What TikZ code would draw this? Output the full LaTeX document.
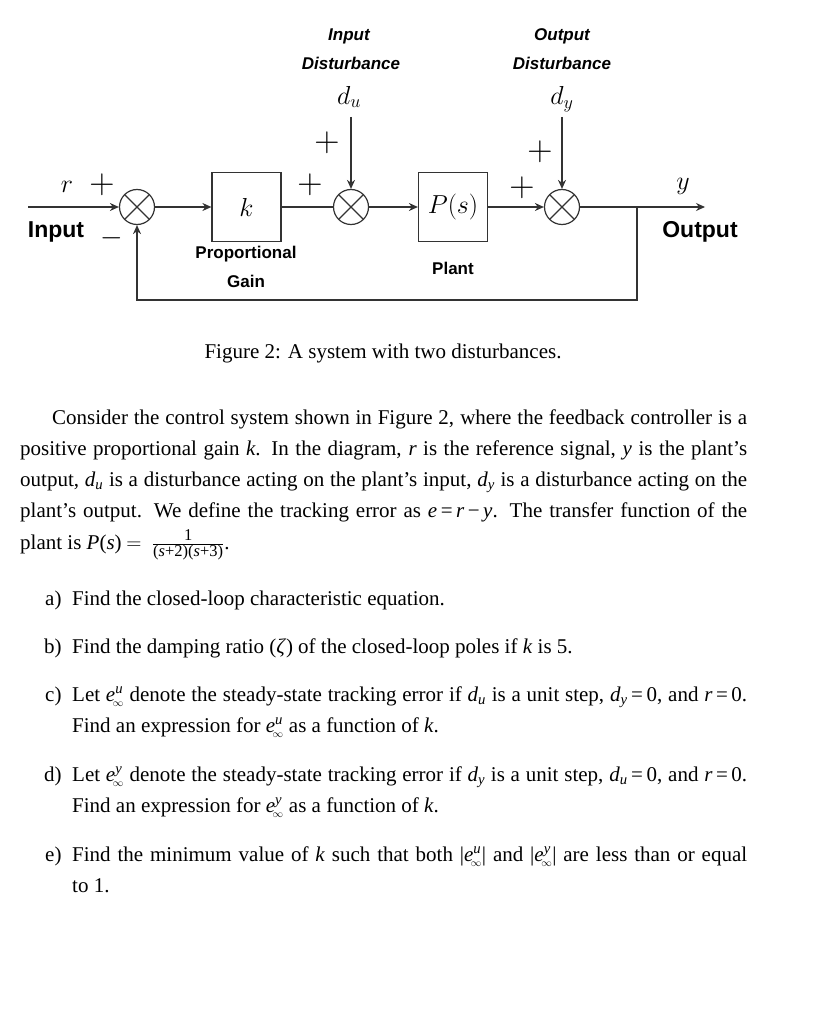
\RequirePackage{fix-cm}
\documentclass[tikz,border=0pt]{standalone}
\usepackage{amsmath}
\usepackage[no-math]{fontspec}
\setmainfont{Liberation Serif}
\newfontfamily\dsans{Liberation Sans}
\usetikzlibrary{arrows.meta}
\definecolor{lc}{HTML}{333333}
\newcommand\jl[2]{\makebox[#1pt][s]{#2}}
\newcommand\mi[1]{\textit{#1}}
\newcommand\eu{$\textit{e}^{\textit{u}}_{\mkern-3mu\scriptscriptstyle\infty}$}
\newcommand\ey{$\textit{e}^{\textit{y}}_{\mkern-3mu\scriptscriptstyle\infty}$}
\newcommand\du{\textit{d}\textsubscript{\textit{u}}}
\newcommand\dy{\textit{d}\textsubscript{\textit{y}}}
\newcommand\fr[1]{\text{\fontsize{16.5}{16.5}\selectfont #1}}
\begin{document}
\begin{tikzpicture}[x=1pt,y=-1pt,
  line/.style={draw=lc, line width=1.2pt},
  arr/.style={line, -{Stealth[length=9pt,width=8pt]}},
  blk/.style={draw=lc, line width=1.2pt, minimum width=69pt, minimum height=69pt, inner sep=0pt},
  sumc/.style={circle, draw=lc, line width=1.2pt, minimum size=35pt, inner sep=0pt,
    path picture={\draw[lc, line width=1.1pt] (path picture bounding box.north west) -- (path picture bounding box.south east)
      (path picture bounding box.north east) -- (path picture bounding box.south west);}},
  mth/.style={font=\fontsize{26}{26}\selectfont, inner sep=0pt},
  pls/.style={font=\fontsize{35}{35}\selectfont, inner sep=0pt},
  big/.style={font=\fontsize{23}{23}\selectfont\dsans\bfseries, inner sep=0pt},
  small/.style={font=\fontsize{17}{17}\selectfont\dsans\bfseries, inner sep=0pt},
  smit/.style={font=\fontsize{17}{17}\selectfont\dsans\bfseries\itshape, inner sep=0pt},
  txt/.style={font=\fontsize{21}{21}\selectfont, inner sep=0pt, anchor=base west},
  lbl/.style={font=\fontsize{21}{21}\selectfont, inner sep=0pt, anchor=base west}
]
\useasboundingbox (0,0) rectangle (820,1024);
\fill[white] (0,0) rectangle (820,1024);

% blocks
\node[sumc] (s1) at (137,207) {};
\node[blk] (k) at (246.5,207) {\fontsize{26}{26}\selectfont$k$};
\node[sumc] (s2) at (351,207) {};
\node[blk] (p) at (453,207) {\fontsize{26}{26}\selectfont$P(s)$};
\node[sumc] (s3) at (562,207) {};
\coordinate (in) at (28,207);
\coordinate (br) at (637,207);
\coordinate (out) at (705,207);
\coordinate (fb) at (637,300);
\coordinate (fb2) at (137,300);
\coordinate (du) at (351,117);
\coordinate (dy) at (562,117);

\draw[arr] (in) -- (s1);
\draw[arr] (s1) -- (k);
\draw[line] (k) -- (s2);
\draw[arr] (s2) -- (p);
\draw[arr] (p) -- (s3);
\draw[arr] (s3) -- (out);
\draw[arr] (br) -- (fb) -- (fb2) -- (s1);
\draw[arr] (du) -- (s2);
\draw[arr] (dy) -- (s3);

% labels
\node[mth] (r) at (67,187) {$r$};
\node[pls] (p1) at (102,185) {$+$};
\node[font=\fontsize{29}{29}\selectfont, inner sep=0pt] (m1) at (112,238) {$-$};
\node[big] (inl) at (56,232) {Input};
\node[big] (outl) at (700,232) {Output};
\node[small] (pg1) at (246,254) {Proportional};
\node[small] (pg2) at (246,281) {Gain};
\node[small] (pl) at (453,268) {Plant};
\node[pls] (p2) at (310,185) {$+$};
\node[pls] (p3) at (327,143) {$+$};
\node[pls] (p4) at (522,188) {$+$};
\node[pls] (p5) at (540,152) {$+$};
\node[smit] (id1) at (349,36) {Input};
\node[smit] (id2) at (351,63) {Disturbance};
\node[smit] (od1) at (562,36) {Output};
\node[smit] (od2) at (562,63) {Disturbance};
\node[mth] (dul) at (349,97) {$d_u$};
\node[mth] (dyl) at (562,99) {$d_y$};
\node[mth] (yl) at (683,186) {$y$};

% caption
\node[font=\fontsize{21}{21}\selectfont, inner sep=0pt] (cap) at (383,353) {Figure 2: A system with two disturbances.};

% body
\node[txt] (b1) at (52,424) {\jl{695}{Consider the control system shown in Figure 2, where the feedback controller is a}};
\node[txt] (b2) at (20,455.3) {\jl{727}{positive proportional gain \mi{k}. In the diagram, \mi{r} is the reference signal, \mi{y} is the plant’s}};
\node[txt] (b3) at (20,486.6) {\jl{727}{output, \du{} is a disturbance acting on the plant’s input, \dy{} is a disturbance acting on the}};
\node[txt] (b4) at (20,517.9) {\jl{727}{plant’s output. We define the tracking error as \mi{e}\,=\,\mi{r}\,−\,\mi{y}. The transfer function of the}};
\node[txt] (b5) at (20,549.2) {plant is \mi{P}(\mi{s})$\mkern4mu=\mkern4mu\frac{\fr{1}}{\fr{(\textit{s}+2)(\textit{s}+3)}}$.};

% items
\node[lbl] (la) at (45,605) {a)};
\node[txt] (ta) at (72,605) {Find the closed-loop characteristic equation.};
\node[lbl] (lb) at (44,653) {b)};
\node[txt] (tb) at (72,653) {Find the damping ratio (\mi{ζ}) of the closed-loop poles if \mi{k} is 5.};
\node[lbl] (lc1) at (45,701) {c)};
\node[txt] (tc1) at (72,701) {\jl{675}{Let \eu{} denote the steady-state tracking error if \du{} is a unit step, \dy\,=\,0, and \mi{r}\,=\,0.}};
\node[txt] (tc2) at (72,732) {Find an expression for \eu{} as a function of \mi{k}.};
\node[lbl] (ld1) at (44,781) {d)};
\node[txt] (td1) at (72,781) {\jl{675}{Let \ey{} denote the steady-state tracking error if \dy{} is a unit step, \du\,=\,0, and \mi{r}\,=\,0.}};
\node[txt] (td2) at (72,812) {Find an expression for \ey{} as a function of \mi{k}.};
\node[lbl] (le1) at (45,861) {e)};
\node[txt] (te1) at (72,861) {\jl{675}{Find the minimum value of \mi{k} such that both |\eu| and |\ey| are less than or equal}};
\node[txt] (te2) at (72,892) {to 1.};
\end{tikzpicture}
\end{document}
